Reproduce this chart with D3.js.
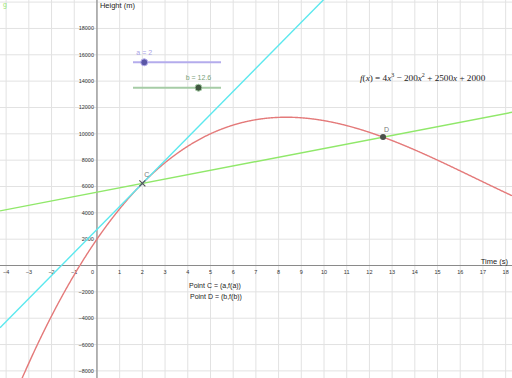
<!DOCTYPE html>
<html>
<head>
  <script src="https://d3js.org/d3.v7.min.js"></script>
  <style>
  body { margin: 0; background: #fff; font-family: "Liberation Sans", Arial, sans-serif; }
  .grid line { stroke: #e2e2e2; stroke-width: 1px; }
  .tick-label { font-size: 5.5px; fill: #333; }
  </style>
</head>
<body>
<div id="chart"></div>
<script>
  // polynomial f(x) = 4x^3 - 200x^2 + 2500x + 2000
  var coefs = [4, -200, 2500, 2000];
  var sliderA = 2;
  var sliderB = 12.6;
  var xTicks = [-4, -3, -2, -1, 1, 2, 3, 4, 5, 6, 7, 8, 9, 10, 11, 12, 13, 14, 15, 16, 17, 18];
  var yTicks = [-8000, -6000, -4000, -2000, 2000, 4000, 6000, 8000, 10000, 12000, 14000, 16000, 18000];

  var width = 512, height = 378;

  function f(x) { return coefs[0]*x*x*x + coefs[1]*x*x + coefs[2]*x + coefs[3]; }
  function df(x) { return 3*coefs[0]*x*x + 2*coefs[1]*x + coefs[2]; }

  var x = d3.scaleLinear().domain([-4.27, 18.28]).range([0, width]);
  var y = d3.scaleLinear().domain([20160, -8540]).range([0, height]);

  var svg = d3.select("#chart").append("svg")
    .attr("width", width)
    .attr("height", height);

  // grid
  var grid = svg.append("g").attr("class", "grid");
  grid.selectAll(".gx")
    .data(d3.range(-4, 19))
    .enter().append("line")
    .attr("x1", function(d) { return x(d); })
    .attr("x2", function(d) { return x(d); })
    .attr("y1", 0).attr("y2", height);
  grid.selectAll(".gy")
    .data(d3.range(-8000, 20001, 2000))
    .enter().append("line")
    .attr("y1", function(d) { return y(d); })
    .attr("y2", function(d) { return y(d); })
    .attr("x1", 0).attr("x2", width);

  // axes
  svg.append("line").attr("x1", 0).attr("x2", width).attr("y1", y(0)).attr("y2", y(0))
    .attr("stroke", "#8a8a8a").attr("stroke-width", 1.2);
  svg.append("line").attr("x1", x(0)).attr("x2", x(0)).attr("y1", 0).attr("y2", height)
    .attr("stroke", "#8a8a8a").attr("stroke-width", 1.2);

  function fmt(v) { return v < 0 ? "\u2212" + Math.abs(v) : String(v); }

  svg.selectAll(".xl")
    .data(xTicks)
    .enter().append("text")
    .attr("class", "tick-label")
    .attr("x", function(d) { return x(d); })
    .attr("y", y(0) + 8)
    .attr("text-anchor", "middle")
    .text(fmt);

  svg.selectAll(".yl")
    .data(yTicks)
    .enter().append("text")
    .attr("class", "tick-label")
    .attr("x", x(0) - 3)
    .attr("y", function(d) { return y(d) + 2; })
    .attr("text-anchor", "end")
    .text(fmt);

  svg.append("text").attr("class", "tick-label")
    .attr("x", x(0) - 3).attr("y", y(0) + 8)
    .attr("text-anchor", "end").text("0");

  svg.append("text").attr("x", x(0) + 3).attr("y", 8)
    .style("font-size", "7.5px").attr("fill", "#222").text("Height (m)");
  svg.append("text").attr("x", width - 4).attr("y", y(0) - 1.5)
    .attr("text-anchor", "end")
    .style("font-size", "7.5px").attr("fill", "#222").text("Time (s)");

  svg.append("text").attr("x", 3).attr("y", 7)
    .style("font-size", "7px").attr("fill", "#9be87a").text("g");

  // curve
  var xs = d3.range(-4.3, 18.3, 0.02);
  var line = d3.line()
    .x(function(d) { return x(d); })
    .y(function(d) { return y(f(d)); });

  var fa = f(sliderA), fb = f(sliderB);
  var slopeT = df(sliderA);
  var slopeS = (fb - fa) / (sliderB - sliderA);
  var dom = x.domain();

  // secant (green)
  svg.append("line")
    .attr("x1", x(dom[0])).attr("y1", y(fa + slopeS * (dom[0] - sliderA)))
    .attr("x2", x(dom[1])).attr("y2", y(fa + slopeS * (dom[1] - sliderA)))
    .attr("stroke", "#90e86a").attr("stroke-width", 1.4);

  svg.append("path")
    .datum(xs)
    .attr("d", line)
    .attr("fill", "none")
    .attr("stroke", "#e47a7a")
    .attr("stroke-width", 1.4);

  // tangent (cyan)
  svg.append("line")
    .attr("x1", x(dom[0])).attr("y1", y(fa + slopeT * (dom[0] - sliderA)))
    .attr("x2", x(dom[1])).attr("y2", y(fa + slopeT * (dom[1] - sliderA)))
    .attr("stroke", "#5ce8ee").attr("stroke-width", 1.4);

  // point C (cross)
  var cx = x(sliderA), cy = y(fa);
  svg.append("path")
    .attr("d", "M" + (cx-3) + "," + (cy-3) + "L" + (cx+3) + "," + (cy+3) +
               "M" + (cx-3) + "," + (cy+3) + "L" + (cx+3) + "," + (cy-3))
    .attr("stroke", "#555").attr("stroke-width", 1.2);
  svg.append("text").attr("x", cx + 2).attr("y", cy - 6)
    .style("font-size", "7px").attr("fill", "#777").text("C");

  // point D
  var dx = x(sliderB), dy = y(fb);
  svg.append("circle").attr("cx", dx).attr("cy", dy).attr("r", 3)
    .attr("fill", "#4a4f4a");
  svg.append("text").attr("x", dx + 1).attr("y", dy - 5)
    .style("font-size", "7px").attr("fill", "#777").text("D");

  // sliders
  var sl = d3.scaleLinear().domain([0, 17]).range([134, 221]);
  function slider(yy, val, label, lineCol, knobCol, txtCol) {
    svg.append("line").attr("x1", sl.range()[0] - 1).attr("x2", sl.range()[1])
      .attr("y1", yy).attr("y2", yy)
      .attr("stroke", lineCol).attr("stroke-width", 2);
    svg.append("circle").attr("cx", sl(val)).attr("cy", yy).attr("r", 3.5)
      .attr("fill", knobCol).attr("stroke", lineCol).attr("stroke-width", 1);
    svg.append("text").attr("x", sl(val)).attr("y", yy - 7.5)
      .attr("text-anchor", "middle")
      .style("font-size", "7px").attr("fill", txtCol).text(label);
  }
  slider(62.3, sliderA, "a = " + sliderA, "#b4acec", "#5a56a6", "#a9a2e6");
  slider(87.7, sliderB, "b = " + sliderB, "#a6cca6", "#3e553e", "#7aa27a");

  // formula
  var ft = svg.append("text").attr("x", 360).attr("y", 80.5)
    .style("font-family", "'Liberation Serif', 'Times New Roman', serif")
    .style("font-size", "9.2px").attr("fill", "#222");
  ft.append("tspan").style("font-style", "italic").text("f");
  ft.append("tspan").text("(");
  ft.append("tspan").style("font-style", "italic").text("x");
  ft.append("tspan").text(") = " + coefs[0]);
  ft.append("tspan").style("font-style", "italic").text("x");
  ft.append("tspan").attr("dy", -3.5).style("font-size", "6px").text("3");
  ft.append("tspan").attr("dy", 3.5).text(" \u2212 " + Math.abs(coefs[1]));
  ft.append("tspan").style("font-style", "italic").text("x");
  ft.append("tspan").attr("dy", -3.5).style("font-size", "6px").text("2");
  ft.append("tspan").attr("dy", 3.5).text(" + " + coefs[2]);
  ft.append("tspan").style("font-style", "italic").text("x");
  ft.append("tspan").text(" + " + coefs[3]);

  svg.append("text").attr("x", 189).attr("y", 287.5)
    .style("font-size", "7px").attr("fill", "#222").text("Point C = (a,f(a))");
  svg.append("text").attr("x", 190).attr("y", 298.5)
    .style("font-size", "7px").attr("fill", "#222").text("Point D = (b,f(b))");
</script>
</body>
</html>
